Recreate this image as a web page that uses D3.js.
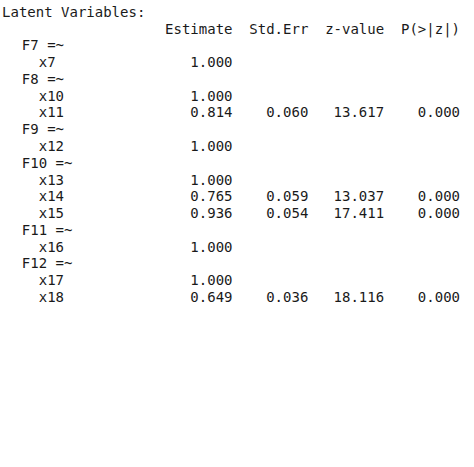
<!DOCTYPE html>
<html><head><meta charset="utf-8">
<script src="https://cdn.jsdelivr.net/npm/d3@7"></script>
<style>body{margin:0;background:#fff}</style></head>
<body><svg id="c" width="474" height="467"></svg>
<script>
const title = "Latent Variables:";
const headers = ["Estimate","Std.Err","z-value","P(>|z|)"];
const labels = ["F7 =~","x7","F8 =~","x10","x11","F9 =~","x12","F10 =~","x13","x14","x15","F11 =~","x16","F12 =~","x17","x18"];
const estimates = ["","1.000","","1.000","0.814","","1.000","","1.000","0.765","0.936","","1.000","","1.000","0.649"];
const stdErr = ["","","","","0.060","","","","","0.059","0.054","","","","","0.036"];
const zValue = ["","","","","13.617","","","","","13.037","17.411","","","","","18.116"];
const pValue = ["","","","","0.000","","","","","0.000","0.000","","","","","0.000"];
const colEnds = [27,36,45,54];

const svg = d3.select("#c");
const x = d3.scaleLinear().domain([0,54]).range([5,460]);
const y = d3.scaleLinear().domain([0,17]).range([12,297]);
const font = "'DejaVu Sans Mono', monospace";
function t(str, col, row, anchor){
  svg.append("text").attr("x", x(col)).attr("y", y(row)).attr("dy","0.35em")
    .attr("text-anchor", anchor).attr("font-family", font).attr("font-size", 14)
    .attr("fill","#1a1a1a").attr("xml:space","preserve").text(str);
}
t("Latent Variables:",-0.35,0,"start");
headers.forEach((h,i)=>t(h,colEnds[i],1,"end"));
labels.forEach((l,i)=>{
  const isF = l.startsWith("F");
  t(l, isF?2:4, i+2, "start");
  [estimates,stdErr,zValue,pValue].forEach((arr,j)=>{ if(arr[i]) t(arr[i],colEnds[j],i+2,"end"); });
});
</script></body></html>
